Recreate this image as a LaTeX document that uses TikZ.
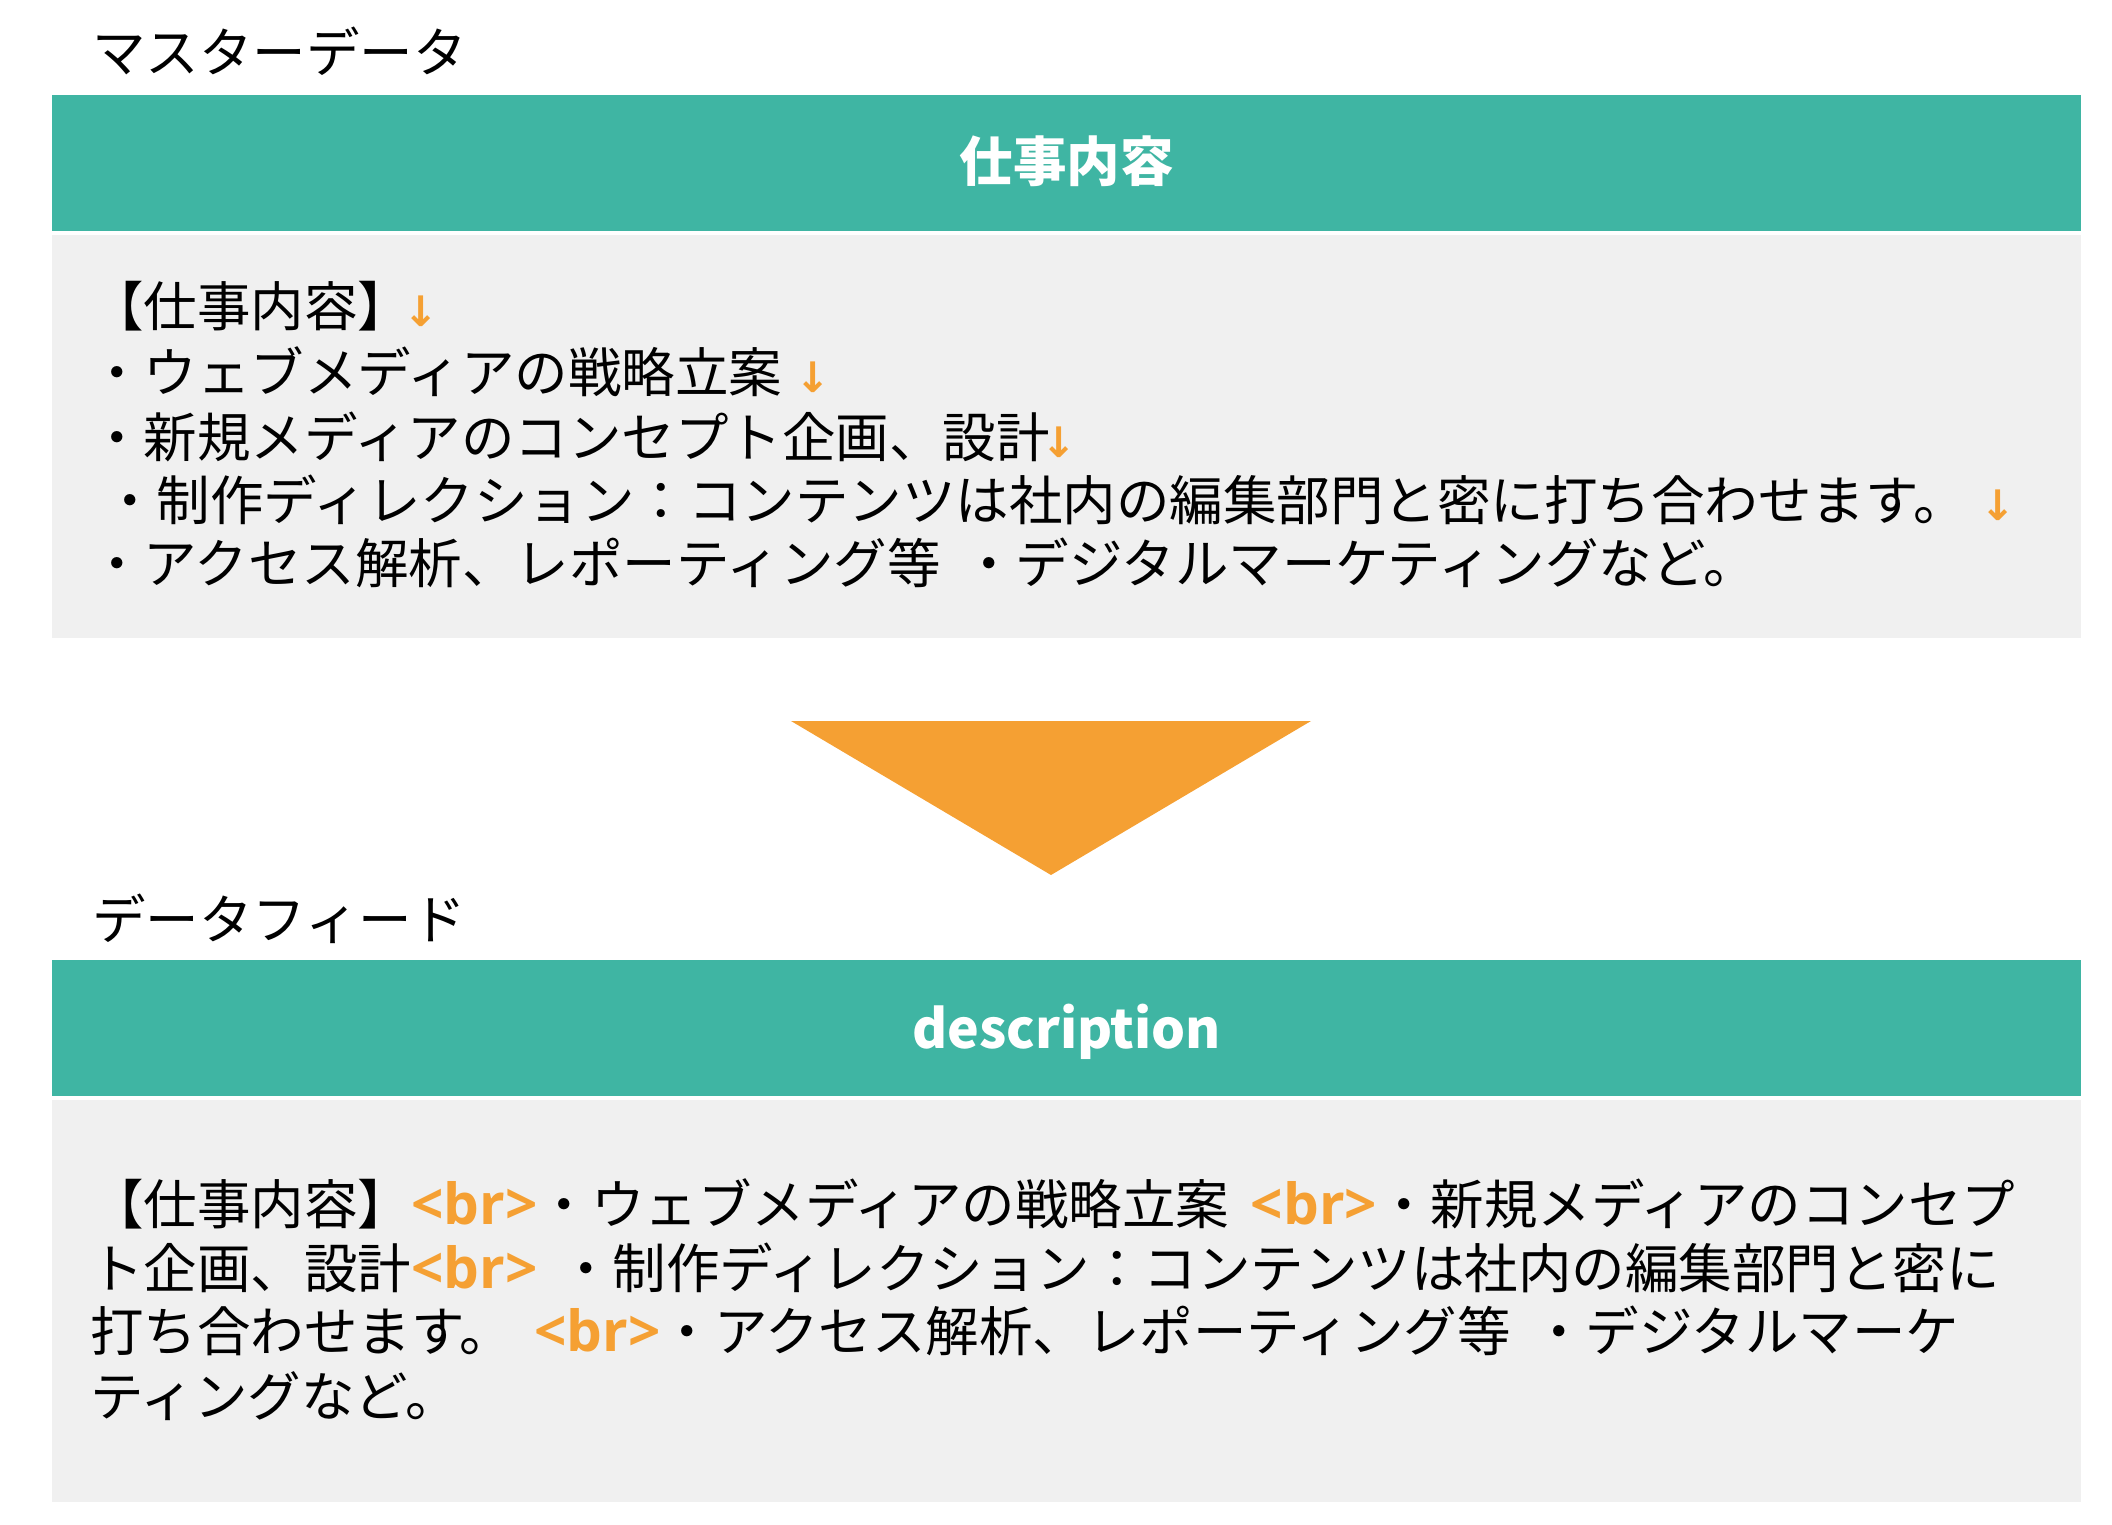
\documentclass[tikz,border=0pt]{standalone}
\usepackage{fontspec}
\setmainfont{Noto Sans CJK JP}[WordSpace=1.8]
\newfontfamily\tagfont{Open Sans}
\newfontfamily\arrowfont{DejaVu Sans}
\usepackage{xcolor}
\usetikzlibrary{positioning}
\definecolor{headteal}{HTML}{3FB5A3}
\definecolor{markorange}{HTML}{F5A033}
\definecolor{boxgray}{HTML}{F0F0F0}
\newcommand{\brtag}{{\tagfont\bfseries\fontsize{28.3pt}{32pt}\selectfont\color{markorange}<br>}}
\newcommand{\retmark}{\hspace{-4pt}{\arrowfont\bfseries\fontsize{21pt}{21pt}\selectfont\color{markorange}↓}}
\tikzset{
  jtext/.style={inner sep=0pt, anchor=base west, font=\fontsize{26.75pt}{32pt}\selectfont},
  headbar/.style={fill=headteal, minimum width=1014.5pt, minimum height=68pt, inner sep=0pt,
    text=white, font=\fontsize{26.75pt}{32pt}\selectfont\bfseries, text height=.88em, text depth=.12em},
  bodybox/.style={fill=boxgray, minimum width=1014.5pt, inner sep=0pt}
}

\begin{document}
\begin{tikzpicture}[x=0.5pt,y=-0.5pt]
\useasboundingbox (0,0) rectangle (2112,1524);
\node[jtext] (mastertitle) at (92,73) {マスターデータ};
\node[headbar] (masterhead) at (1066.5,163) {\raisebox{-5.5pt}{仕事内容}};
\node[bodybox, minimum height=201.5pt, below=1.5pt of masterhead] (masterbody) {};
\node[jtext] (mline1) at (90,327) {【仕事内容】\retmark};
\node[jtext] (mline2) at (90,392) {・ウェブメディアの戦略立案 \retmark};
\node[jtext] (mline3) at (90,457) {・新規メディアのコンセプト企画、設計\retmark};
\node[jtext] (mline4) at (103,520) {・制作ディレクション：コンテンツは社内の編集部門と密に打ち合わせます。 \retmark};
\node[jtext] (mline5) at (90,583) {・アクセス解析、レポーティング等 ・デジタルマーケティングなど。};
\fill[markorange] (791,721) -- (1311,721) -- (1051,875) -- cycle;
\node[jtext] (feedtitle) at (92,939) {データフィード};
\node[headbar] (feedhead) at (1066.5,1028) {\raisebox{-6.5pt}{description}};
\node[bodybox, minimum height=201pt, below=1.5pt of feedhead] (feedbody) {};
\node[jtext] (fline1) at (90,1224) {【仕事内容】\brtag・ウェブメディアの戦略立案 \brtag・新規メディアのコンセプ};
\node[jtext] (fline2) at (90,1288) {ト企画、設計\brtag\ ・制作ディレクション：コンテンツは社内の編集部門と密に};
\node[jtext] (fline3) at (90,1351) {打ち合わせます。 \brtag・アクセス解析、レポーティング等 ・デジタルマーケ};
\node[jtext] (fline4) at (90,1416) {ティングなど。};
\end{tikzpicture}
\end{document}
